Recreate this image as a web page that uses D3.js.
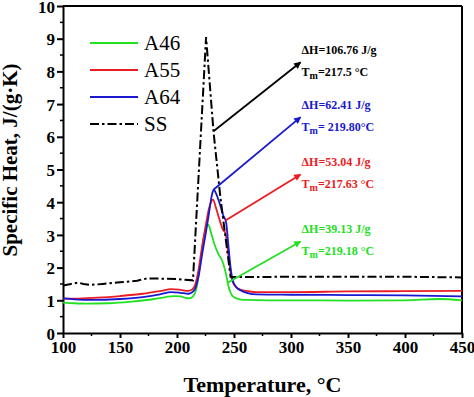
<!DOCTYPE html>
<html>
<head>
<meta charset="utf-8">
<script src="https://cdn.jsdelivr.net/npm/d3@7"></script>
<style>
  body { margin: 0; background: #fff; }
  text { font-family: "Liberation Serif", "Times New Roman", serif; }
</style>
</head>
<body>
<div id="chart"></div>
<script>
// series data
var tA46 = [100,110,120,140,160,180,190,197,203,208,211,214,217,220.5,223.5,225.5,227.5,230,233,236.5,240,243,245,247,250,255,262,280,300,350,400,430,450];
var vA46 = [0.93,0.91,0.9,0.91,0.96,1.04,1.1,1.13,1.12,1.07,1.06,1.12,1.35,2.15,2.9,3.22,3.31,3.05,2.7,2.4,2.18,1.8,1.45,1.23,1.09,1.03,1.01,1.0,1.0,0.99,1.0,1.04,1.0];

var tA55 = [100,110,130,150,170,185,195,203,210,213,216,219,222,225,228,230,231.6,234,237,240.5,242.5,245,247,249,252,256,262,270,300,350,400,450];
var vA55 = [1.05,1.05,1.08,1.13,1.2,1.28,1.34,1.32,1.29,1.32,1.48,1.95,2.65,3.25,3.8,4.02,4.08,3.85,3.5,3.15,3.05,2.4,1.85,1.55,1.4,1.32,1.28,1.25,1.25,1.27,1.28,1.29];

var tA64 = [100,110,125,150,170,185,195,203,210,213,216,219,222,225,228,230.5,232.2,234.5,237.5,240.5,243,245,247,249,252,256,262,270,300,350,400,450];
var vA64 = [1.06,1.03,1.01,1.04,1.1,1.18,1.25,1.23,1.2,1.24,1.36,1.75,2.4,3.0,3.65,4.2,4.38,4.25,3.95,3.6,3.4,2.7,2.0,1.6,1.4,1.3,1.22,1.18,1.17,1.16,1.15,1.12];

var tSS = [100,107,113.5,118,124,135,150,165,174,190,200,214,225.5,232,238,243,247,260,300,350,400,450];
var vSS = [1.45,1.5,1.54,1.5,1.47,1.5,1.55,1.6,1.67,1.66,1.65,1.61,9.05,6.17,4.17,2.8,1.72,1.71,1.72,1.72,1.72,1.7];

var seriesNames = ["A46", "A55", "A64", "SS"];
var seriesColors = ["#22e022", "#ea1c24", "#1818d0", "#000000"];

// annotation arrows: start (T, Cp) -> end (T, Cp)
var arrowStartT = [244, 242.5, 232.2, 232];
var arrowStartV = [1.53, 3.44, 4.39, 6.17];
var arrowEndT   = [308.4, 308.4, 308.4, 308.4];
var arrowEndV   = [2.8, 4.85, 6.6, 8.28];
var dHLabels = ["\u0394H=39.13 J/g", "\u0394H=53.04 J/g", "\u0394H=62.41 J/g", "\u0394H=106.76 J/g"];
var tmLabels = ["=219.18 \u00b0C", "=217.63 \u00b0C", "= 219.80\u00b0C", "=217.5 \u00b0C"];

var xTicks = [100,150,200,250,300,350,400,450];
var yTicks = [0,1,2,3,4,5,6,7,8,9,10];

(function () {
    var W = 474, H = 397;
    var mLeft = 63, mRight = 462, mTop = 6, mBottom = 333;

    var svg = d3.select("#chart").append("svg")
        .attr("width", W).attr("height", H);

    var x = d3.scaleLinear().domain([100, 450]).range([mLeft, mRight]);
    var y = d3.scaleLinear().domain([0, 10]).range([mBottom, mTop]);

    // frame
    svg.append("line").attr("x1", mLeft).attr("x2", mRight).attr("y1", mTop).attr("y2", mTop)
        .attr("stroke", "#000").attr("stroke-width", 2);
    svg.append("line").attr("x1", mRight).attr("x2", mRight).attr("y1", mTop).attr("y2", mBottom)
        .attr("stroke", "#000").attr("stroke-width", 2);

    // minor ticks
    var xMinor = d3.range(125, 450, 50);
    var yMinor = d3.range(0.5, 10, 1);
    svg.append("g").selectAll("line").data(xMinor).enter().append("line")
        .attr("x1", function (d) {return x(d);}).attr("x2", function (d) {return x(d);})
        .attr("y1", mBottom).attr("y2", mBottom + 3)
        .attr("stroke", "#000").attr("stroke-width", 1.5);
    svg.append("g").selectAll("line").data(yMinor).enter().append("line")
        .attr("y1", function (d) {return y(d);}).attr("y2", function (d) {return y(d);})
        .attr("x1", mLeft).attr("x2", mLeft - 3)
        .attr("stroke", "#000").attr("stroke-width", 1.5);

    // axes
    var xAxis = svg.append("g").attr("transform", "translate(0," + mBottom + ")")
        .call(d3.axisBottom(x).tickValues(xTicks).tickSize(5).tickPadding(3).tickSizeOuter(0));
    var yAxis = svg.append("g").attr("transform", "translate(" + mLeft + ",0)")
        .call(d3.axisLeft(y).tickValues(yTicks).tickSize(6).tickPadding(2).tickSizeOuter(0));

    [xAxis, yAxis].forEach(function (a) {
        a.attr("font-family", null).attr("font-size", null);
        a.select(".domain").attr("stroke-width", 2);
        a.selectAll(".tick line").attr("stroke-width", 2);
        a.selectAll("text")
            .attr("font-family", "Liberation Serif")
            .attr("font-weight", "bold")
            .attr("font-size", 17)
            .attr("fill", "#000");
    });
    yAxis.selectAll("text").attr("dy", "0.36em");

    // axis titles
    svg.append("text").attr("x", (mLeft + mRight) / 2).attr("y", 392)
        .attr("text-anchor", "middle").attr("font-weight", "bold").attr("font-size", 22)
        .text("Temperature, \u00b0C");
    svg.append("text").attr("transform", "translate(17,160) rotate(-90)")
        .attr("text-anchor", "middle").attr("font-weight", "bold").attr("font-size", 21)
        .text("Specific Heat, J/(g\u00b7K)");

    // curves
    var tAll = [tA46, tA55, tA64, tSS];
    var vAll = [vA46, vA55, vA64, vSS];

    var plot = svg.append("g");
    tAll.forEach(function (ts, i) {
        var pts = ts.map(function (t, j) {return [t, vAll[i][j]];});
        var line = d3.line()
            .x(function (d) {return x(d[0]);})
            .y(function (d) {return y(d[1]);})
            .curve(i == 3 ? d3.curveLinear : d3.curveMonotoneX);
        plot.append("path").datum(pts)
            .attr("d", line)
            .attr("fill", "none")
            .attr("stroke", seriesColors[i])
            .attr("stroke-width", i == 3 ? 2 : 1.8)
            .attr("stroke-dasharray", i == 3 ? "9,3,2.5,3" : null);
    });

    // arrow heads
    var defs = svg.append("defs");
    seriesColors.forEach(function (c, i) {
        defs.append("marker").attr("id", "arr" + i)
            .attr("viewBox", "0 0 10 10").attr("refX", 9).attr("refY", 5)
            .attr("markerWidth", 10).attr("markerHeight", 7)
            .attr("markerUnits", "userSpaceOnUse")
            .attr("orient", "auto")
            .append("path").attr("d", "M0,0 L10,5 L0,10 Z").attr("fill", c);
    });

    var ann = svg.append("g");
    arrowStartT.forEach(function (t0, i) {
        var x1 = x(arrowEndT[i]), y1 = y(arrowEndV[i]);
        ann.append("line")
            .attr("x1", x(t0)).attr("y1", y(arrowStartV[i]))
            .attr("x2", x1).attr("y2", y1)
            .attr("stroke", seriesColors[i]).attr("stroke-width", 1.8)
            .attr("marker-end", "url(#arr" + i + ")");
        ann.append("text").attr("x", x1 + 1).attr("y", y1 - 8)
            .attr("font-weight", "bold").attr("font-size", 12)
            .attr("fill", seriesColors[i]).text(dHLabels[i]);
        var tm = ann.append("text").attr("x", x1 + 1).attr("y", y1 + 14)
            .attr("font-weight", "bold").attr("font-size", 12)
            .attr("fill", seriesColors[i]);
        tm.append("tspan").text("T");
        tm.append("tspan").attr("dy", 3).attr("font-size", 10).text("m");
        tm.append("tspan").attr("dy", -3).text(tmLabels[i]);
    });

    // legend
    var legend = svg.append("g");
    seriesNames.forEach(function (n, i) {
        var ly = 43 + i * 27;
        legend.append("line").attr("x1", 90).attr("x2", 138).attr("y1", ly).attr("y2", ly)
            .attr("stroke", seriesColors[i]).attr("stroke-width", 2)
            .attr("stroke-dasharray", i == 3 ? "9,3,2.5,3" : null);
        legend.append("text").attr("x", 144).attr("y", ly + 7)
            .attr("font-size", 21).text(n);
    });
})();
</script>
</body>
</html>
